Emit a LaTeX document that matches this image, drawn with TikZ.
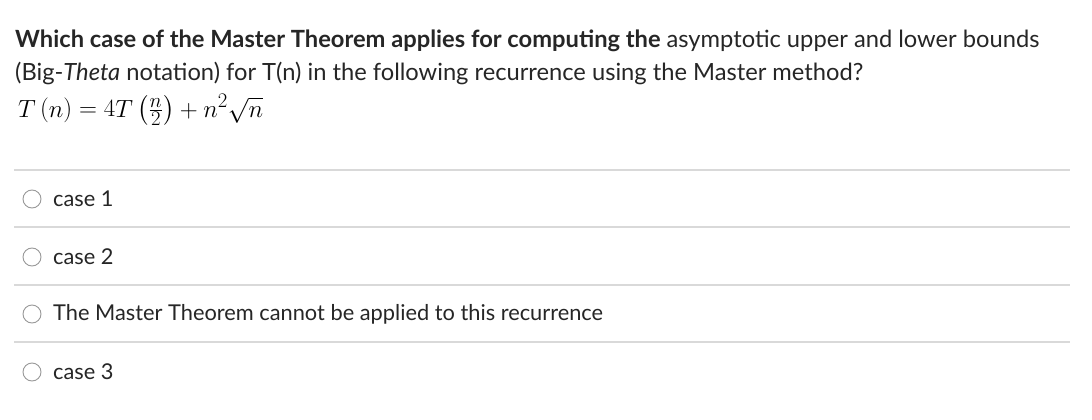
\documentclass[tikz,border=0pt]{standalone}
\usepackage{fontspec}
\setmainfont{Lato}
\usepackage{amsmath}
\begin{document}
\begin{tikzpicture}[x=1pt,y=-1pt,
  txt/.style={anchor=base west,inner sep=0pt,font=\fontsize{23.7}{28}\selectfont,text=black!85},
  opt/.style={anchor=west,inner sep=0pt,font=\fontsize{21.8}{26}\selectfont,text=black!85},
  sep/.style={draw=black!15,line width=1.2pt},
  radio/.style={circle,draw=black!40,line width=0.9pt,minimum size=18pt,inner sep=0pt}]
\useasboundingbox[fill=white] (0,0) rectangle (1092,420);
\node[txt] (q1) at (15,48) {\textbf{Which case of the Master Theorem applies for computing the} asymptotic upper and lower bounds};
\node[txt] (q2) at (15,81) {(Big-\textit{Theta} notation) for T(n) in the following recurrence using the Master method?};
\node[anchor=base west,inner sep=0pt,font=\fontsize{31}{36}\selectfont] (eq) at (18,117) {$T\left(n\right)=4T\left(\frac{n}{2}\right)+n^2\sqrt{n}$};
\foreach \y/\n in {170/l0,227/l1,285/l2,342/l3}{\draw[sep] (14,\y) -- (1070,\y);}
\foreach \y/\t/\n in {199/case 1/a,257/case 2/b,314/The Master Theorem cannot be applied to this recurrence/c,372/case 3/d}{
  \node[radio] (r\n) at (32,\y) {};
  \node[opt] (t\n) at (53,\y) {\t};
}
\end{tikzpicture}
\end{document}
